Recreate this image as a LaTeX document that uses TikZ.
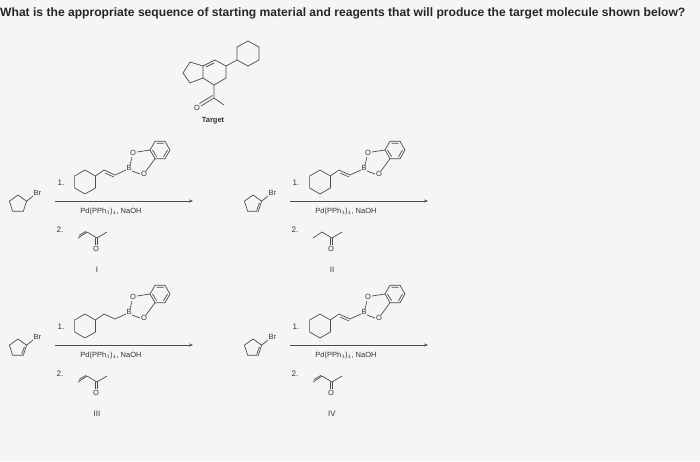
\documentclass[tikz,border=0pt]{standalone}
\usepackage{fontspec}
\setmainfont{Liberation Sans}
\usetikzlibrary{arrows.meta,calc}
\begin{document}
\begin{tikzpicture}[x=1pt,y=-1pt,
  bond/.style={draw=black!70,line width=0.7pt,line join=round},
  lbl/.style={font=\fontsize{7.5}{8}\selectfont,text=black!80,inner sep=0.5pt},
  rlbl/.style={font=\fontsize{8}{8}\selectfont,text=black!80,inner sep=0pt}]
\fill[black!4] (0,0) rectangle (700,461);
\useasboundingbox (0,0) rectangle (700,461);
\node[anchor=west,font=\bfseries\fontsize{12.1}{13}\selectfont,text=black!85,inner sep=0] (title) at (0,13) {What is the appropriate sequence of starting material and reagents that will produce the target molecule shown below?};
% Target
\draw[bond] (215,60)--(226,66)--(226,78)--(214,85)--(203,78)--(203,66)--cycle;
\draw[bond] (206,67)--(214,63);
\draw[bond] (203,66)--(190,62)--(183,73)--(190,83)--(203,78);
\draw[bond] (226,66)--(237,60);
\draw[bond] (237,60)--(237,47)--(248,41)--(259,47)--(259,60)--(248,66)--cycle;
\draw[bond] (214,85)--(214,98)--(224,105);
\draw[bond] (214,98)--(201,106);
\draw[bond] (212.5,95.5)--(199.5,103.5);
\node[lbl] (tO) at (197,108) {O};
\node[lbl,font=\bfseries\fontsize{7.5}{8}\selectfont] (tgt) at (213,121) {Target};
\newcommand{\rxn}[6]{%
\begin{scope}[shift={(#1,#2)}]
 \draw[bond] (26.6,201.2)--(18,195)--(9.4,201.2)--(12.7,211.3)--(23.3,211.3)--cycle;
 \ifnum#3=1 \draw[bond] (24.4,202.8)--(21.7,210.3); \fi
 \draw[bond] (26.6,201.2)--(33,196);
 \node[lbl,anchor=west] (br) at (33,193) {Br};
 \node[rlbl] (one) at (61,183) {1.};
 \draw[bond] (74.6,176)--(85,170)--(95.4,176)--(95.4,188)--(85,194)--(74.6,188)--cycle;
 \draw[bond] (95.4,176)--(104,170)--(115,175)--(126,170);
 \ifnum#4=1 \draw[bond] (105,173)--(114,177); \fi
 \node[lbl] (b) at (129,168) {B};
 \draw[bond] (130,165)--(132,157);
 \node[lbl] (o1) at (133,153) {O};
 \draw[bond] (132,171)--(140,174);
 \node[lbl] (o2) at (144,174) {O};
 \draw[bond] (137,152)--(150,150) (146,171)--(155,158.7);
 \draw[bond] (150,150)--(155,141.3)--(165,141.3)--(170,150)--(165,158.7)--(155,158.7)--cycle;
 \draw[bond] (156.5,143.3)--(163.5,143.3) (167.5,150)--(163.5,156.7) (152.5,150)--(156.5,156.7);
 \draw[bond,-{Stealth[length=4pt,width=3pt]}] (55,201)--(193,201);
 \node[lbl] (pd) at (111,212) {Pd(PPh$_3$)$_4$, NaOH};
 \node[rlbl] (two) at (60,230) {2.};
 \draw[bond] (87,232)--(97,238)--(107,232);
 \draw[bond] (97,238)--(97,245);
 \draw[bond] (95,238)--(95,245);
 \node[lbl] (ko) at (96,249) {O};
 \draw[bond] (78,238)--(87,232);
 \ifnum#5=1 \draw[bond] (79,235.5)--(86,231.3); \fi
 \node[rlbl] (lab) at (97,270) {#6};
\end{scope}}
\rxn{0}{0}{0}{1}{1}{I}
\rxn{235}{0}{1}{1}{0}{II}
\rxn{0}{144}{1}{0}{1}{III}
\rxn{235}{144}{1}{1}{1}{IV}
\end{tikzpicture}
\end{document}
